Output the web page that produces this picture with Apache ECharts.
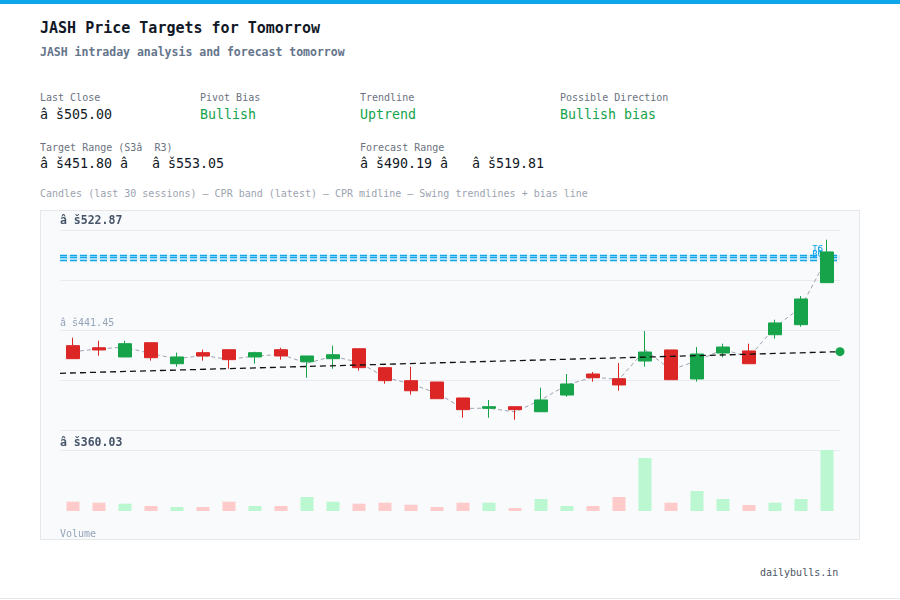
<!DOCTYPE html>
<html>
<head>
<meta charset="utf-8">
<script src="https://cdn.jsdelivr.net/npm/echarts@6/dist/echarts.min.js"></script>
<style>
  html, body { margin:0; padding:0; background:#fff; }
  body { width:900px; height:600px; position:relative; overflow:hidden;
         font-family:'DejaVu Sans Mono', 'Liberation Mono', monospace; }
  .topbar { position:absolute; left:0; top:0; width:900px; height:4px; background:#0ea5e9; }
  .page-edge { position:absolute; left:0; top:598px; width:900px; height:1px; background:#e5e7eb; }
  .t { position:absolute; white-space:pre; }
  .title { left:40px; top:19px; font-size:15px; line-height:18px; font-weight:bold; color:#111827; }
  .sub { left:40px; top:45px; font-size:11.5px; line-height:14px; font-weight:bold; color:#64748b; }
  .lbl { font-size:10px; line-height:12px; color:#6b7280; }
  .val { font-size:13.3px; line-height:16px; color:#111827; }
  .up { color:#16a34a; }
  .cap { left:40px; top:188px; font-size:10px; line-height:12px; color:#9ca3af; }
  .panel { position:absolute; left:40px; top:210px; width:818px; height:328px;
           background:#f8fafc; border:1px solid #e5e7eb; }
  #chart { position:absolute; left:0; top:0; width:818px; height:328px; }
  .vol { position:absolute; left:19px; top:317px; font-size:10px; line-height:12px; color:#94a3b8; }
  .foot { left:760px; top:567px; font-size:10px; line-height:12px; color:#4b5563; }
</style>
</head>
<body>
<div class="topbar"></div>
<div class="t title">JASH Price Targets for Tomorrow</div>
<div class="t sub">JASH intraday analysis and forecast tomorrow</div>

<div class="t lbl" style="left:40px;top:92px">Last Close</div>
<div class="t val" style="left:40px;top:107px">â š505.00</div>
<div class="t lbl" style="left:200px;top:92px">Pivot Bias</div>
<div class="t val up" style="left:200px;top:107px">Bullish</div>
<div class="t lbl" style="left:360px;top:92px">Trendline</div>
<div class="t val up" style="left:360px;top:107px">Uptrend</div>
<div class="t lbl" style="left:560px;top:92px">Possible Direction</div>
<div class="t val up" style="left:560px;top:107px">Bullish bias</div>

<div class="t lbl" style="left:40px;top:142px">Target Range (S3â  R3)</div>
<div class="t val" style="left:40px;top:156px">â š451.80 â   â š553.05</div>
<div class="t lbl" style="left:360px;top:142px">Forecast Range</div>
<div class="t val" style="left:360px;top:156px">â š490.19 â   â š519.81</div>

<div class="t cap">Candles (last 30 sessions) – CPR band (latest) – CPR midline – Swing trendlines + bias line</div>

<div class="panel">
  <div id="chart"></div>
  <div class="vol">Volume</div>
</div>

<div class="t foot">dailybulls.in</div>
<div class="page-edge"></div>

<script>
// ---- data ----
const sessions = ['1','2','3','4','5','6','7','8','9','10','11','12','13','14','15',
                  '16','17','18','19','20','21','22','23','24','25','26','27','28','29','30'];
const opens  = [428.7,427.0,419.5,431.1,414.0,423.0,425.4,419.5,425.4,415.6,418.1,426.2,410.8,400.2,399.1,
                386.1,377.7,379.0,374.9,388.5,405.6,401.8,416.2,425.2,401.6,422.7,424.4,437.6,445.8,480.0];
const closes = [418.1,425.2,430.3,418.9,419.5,420.3,417.3,423.0,420.3,420.3,421.3,410.8,400.2,392.0,385.5,
                376.6,379.0,376.6,384.5,397.5,402.6,396.7,423.5,401.0,421.9,427.6,414.0,447.2,466.7,505.0];
const lows   = [418.1,420.5,419.5,416.5,411.6,416.5,409.9,414.0,417.3,402.6,409.9,408.3,397.7,388.8,385.5,
                370.0,370.0,368.4,374.9,387.1,399.4,392.0,411.6,401.0,399.4,419.2,414.0,434.4,444.1,480.0];
const highs  = [435.2,432.7,432.7,431.1,423.0,425.4,425.4,423.8,427.0,420.3,428.7,426.2,410.8,411.6,399.1,
                386.1,384.5,379.0,394.5,405.6,407.3,414.6,440.6,425.2,427.6,430.3,430.3,449.8,469.1,515.0];
// dashed grey path through the sessions
const midPath = [423.8,426.1,427.5,422.2,418.0,420.7,417.5,420.3,421.5,414.4,420.0,415.1,402.9,397.5,390.0,
                 377.6,377.8,374.7,384.6,396.7,403.1,401.1,425.2,409.1,416.3,425.7,419.4,443.8,460.0,500.0];
const volumes = [186000,166000,146000,100000,80000,80000,186000,100000,100000,280000,186000,146000,166000,126000,80000,
                 166000,166000,60000,240000,100000,100000,280000,1060000,166000,400000,240000,120000,166000,240000,1220000];
// CPR (latest)
const cprNames  = ['TC','P','BC'];
const cprLevels = [502.5, 500.5, 498.4];
// bias line: x positions on a 0..30 session scale, and prices
const biasX = [0, 30];
const biasY = [406.2, 423.8];
// price axis
const priceMin = 360.03, priceMax = 522.87, priceStep = 40.71;

const GREEN = '#16a34a', RED = '#dc2626';
const GRID_LINE = '#e8ecf1';

(function(){
  const el = document.getElementById('chart');
  const chart = echarts.init(el, null, { renderer: 'canvas' });

  const candleData = sessions.map((s, i) => [opens[i], closes[i], lows[i], highs[i]]);
  const volData = volumes.map((v, i) => ({
    value: v,
    itemStyle: { color: closes[i] >= opens[i] ? '#bbf7d0' : '#fecaca' }
  }));
  const volTop = Math.max(...volumes);

  const fmtPrice = v => {
    const k = Math.round((v - priceMin) / priceStep);
    if (k % 2) return '';
    const txt = 'â š' + v.toFixed(2);
    if (k === 0) return '{min|' + txt + '}';
    if (k === 4) return '{max|' + txt + '}';
    return '{mid|' + txt + '}';
  };

  chart.setOption({
    animation: false,
    textStyle: { fontFamily: 'DejaVu Sans Mono' },
    grid: [
      { left: 19, right: 19, top: 19, height: 200 },
      { left: 19, right: 19, top: 239, height: 61 }
    ],
    xAxis: [
      { type: 'category', gridIndex: 0, data: sessions, show: false },
      { type: 'value', gridIndex: 0, min: 0, max: 30, show: false },
      { type: 'category', gridIndex: 1, data: sessions, show: false }
    ],
    yAxis: [
      {
        type: 'value', gridIndex: 0,
        min: priceMin, max: priceMax, interval: priceStep,
        axisLine: { show: false }, axisTick: { show: false },
        splitLine: { lineStyle: { color: GRID_LINE } },
        axisLabel: {
          inside: true, margin: 0,
          verticalAlign: 'bottom',
          verticalAlignMinLabel: 'top',
          formatter: fmtPrice,
          rich: {
            max: { fontFamily: 'DejaVu Sans Mono', fontSize: 11.5, fontWeight: 'bold', color: '#475569', padding: [0, 0, 3, 0] },
            mid: { fontFamily: 'DejaVu Sans Mono', fontSize: 10, color: '#94a3b8', padding: [0, 0, 2, 0] },
            min: { fontFamily: 'DejaVu Sans Mono', fontSize: 11.5, fontWeight: 'bold', color: '#475569', padding: [7, 0, 0, 0] }
          }
        }
      },
      {
        type: 'value', gridIndex: 1, min: 0, max: volTop, interval: volTop,
        axisLine: { show: false }, axisTick: { show: false }, axisLabel: { show: false },
        splitLine: { show: true, showMinLine: false, lineStyle: { color: GRID_LINE } }
      }
    ],
    series: [
      {
        // CPR band + levels (latest session)
        name: 'CPR', type: 'line', xAxisIndex: 0, yAxisIndex: 0, data: [], z: 1,
        markArea: {
          silent: true,
          itemStyle: { color: 'rgba(56,189,248,0.16)' },
          data: [[{ yAxis: cprLevels[2] }, { yAxis: cprLevels[0] }]]
        },
        markLine: {
          silent: true, symbol: 'none',
          lineStyle: { color: '#0ea5e9', width: 1.3, type: [7, 3] },
          label: { position: 'insideEndTop', distance: 1, offset: [-16, 0], color: '#0ea5e9', fontSize: 9,
                   fontFamily: 'DejaVu Sans Mono', formatter: p => p.name },
          data: cprLevels.map((v, i) => ({ name: cprNames[i], yAxis: v }))
        }
      },
      {
        name: 'path', type: 'line', xAxisIndex: 0, yAxisIndex: 0, data: midPath,
        symbol: 'none', z: 3,
        lineStyle: { color: '#9ca3af', width: 1, type: [4, 3] }
      },
      {
        name: 'candles', type: 'candlestick', xAxisIndex: 0, yAxisIndex: 0,
        data: candleData, barWidth: '50%', z: 5,
        itemStyle: { color: GREEN, color0: RED, borderColor: GREEN, borderColor0: RED, borderWidth: 1 }
      },
      {
        name: 'bias', type: 'line', xAxisIndex: 1, yAxisIndex: 0, z: 6, clip: false,
        data: biasX.map((x, i) => [x, biasY[i]]),
        symbol: 'circle',
        symbolSize: (v, p) => p.dataIndex === biasX.length - 1 ? 9 : 0,
        itemStyle: { color: GREEN },
        lineStyle: { color: '#111', width: 1.3, type: [6, 4] }
      },
      {
        name: 'volume', type: 'bar', xAxisIndex: 2, yAxisIndex: 1,
        data: volData, barWidth: '50%'
      }
    ]
  });

  window.addEventListener('resize', () => { try { chart.resize(); } catch (e) {} }, { passive: true });
})();
</script>
</body>
</html>
